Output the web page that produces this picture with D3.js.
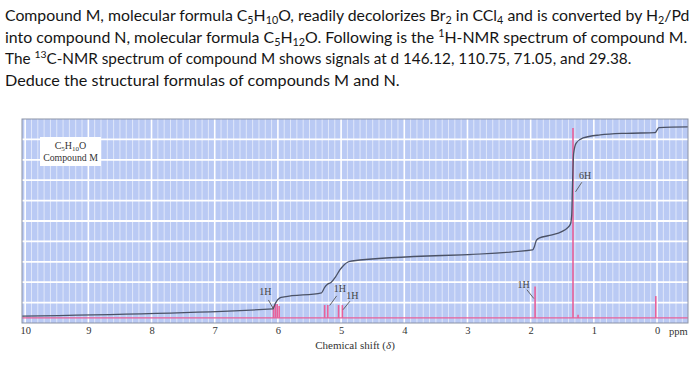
<!DOCTYPE html>
<html><head><meta charset="utf-8">
<script src="https://cdn.jsdelivr.net/npm/d3@7"></script>
<style>body{margin:0;background:#fff;} svg{display:block;}</style>
</head><body>
<svg id="c" width="700" height="367"></svg>
<script>
// ---- data ----
const tickLabels = [10,9,8,7,6,5,4,3,2,1,0];
// NMR peaks: [ppm, intensity]
const peaks = [[6.07,8.3],[6.04,9.3],[6.01,9.3],[5.98,8.3],
               [5.26,8.8],[5.21,8.8],[5.04,8.8],[4.98,8.8],
               [1.93,17.9],[1.33,95.6],[1.25,4.0],[0.02,13.2]];
const baselineLevel = 2.5;
// integration curve: [ppm, level]
const integral = [[10.05,3.4],[6.08,6.9],[6.04,9.7],[5.97,12.3],[5.9,12.8],
  [5.31,14.8],[5.26,17.5],[5.22,18.9],[5.16,19.9],[5.09,22.5],[5.02,26.0],
  [4.95,28.6],[4.89,29.9],[4.83,30.4],[1.97,35.8],[1.94,37.5],[1.91,40.5],[1.86,41.7],
  [1.7,42.9],[1.5,44.9],[1.42,46.6],[1.37,48.5],[1.35,53],[1.34,65],[1.32,83],[1.28,88.2],
  [1.17,90.7],[0.9,92.2],[0.48,93.0],[0.03,93.3],[0.0,94.6],[-0.03,95.8],[-0.49,96.1]];
// annotation labels: text, label position [ppm, level], leader from/to [ppm, level]
const labelTexts = ["1H","1H","1H","1H","6H"];
const labelPos = [[6.20,13.7],[5.02,15.2],[4.82,12.0],[2.11,17.2],[1.14,70.8]];
const leaderFrom = [[6.15,11.3],[5.07,13.3],[4.86,10.7],[2.06,16.3],[1.19,69.0]];
const leaderTo = [[6.07,6.8],[5.18,8.6],[4.97,6.5],[1.95,12.0],[1.29,64.3]];
const titleLines = [
  [["Compound M, molecular formula C"],["5","sub"],["H"],["10","sub"],["O, readily decolorizes Br"],["2","sub"],[" in CCl"],["4","sub"],[" and is converted by H"],["2","sub"],["/Pd"]],
  [["into compound N, molecular formula C"],["5","sub"],["H"],["12","sub"],["O. Following is the "],["1","sup"],["H-NMR spectrum of compound M."]],
  [["The "],["13","sup"],["C-NMR spectrum of compound M shows signals at d 146.12, 110.75, 71.05, and 29.38."]],
  [["Deduce the structural formulas of compounds M and N."]]
];
const titleWidths = [685, 683, 627, 395];

// ---- layout ----
const svg = d3.select("#c");
const L = 22, R = 688, T = 119, B = 323;
const x = d3.scaleLinear().domain([10.05,-0.49]).range([L,R]);
const y = d3.scaleLinear().domain([0,100]).range([B,T]);

// title
titleLines.forEach((parts,i)=>{
  const t = svg.append("text").attr("x",5).attr("y",21+i*21.6)
    .attr("font-family","Lato, 'Open Sans', sans-serif").attr("font-size",16.5).attr("fill","#151515");
  let shift = 0;
  parts.forEach(p=>{
    const s = t.append("tspan").text(p[0]);
    const target = p[1]==="sub"?3:(p[1]==="sup"?-6:0);
    if(p[1]) s.attr("font-size","0.68em");
    s.attr("dy", target-shift);
    shift = target;
  });
  const w = t.node().getComputedTextLength();
  t.attr("font-size", 16.5*titleWidths[i]/w);
});

// plot background
svg.append("rect").attr("x",L).attr("y",T).attr("width",R-L).attr("height",B-T).attr("fill","#bacaf4");
const g = svg.append("g");
const minor = d3.range(-4,101).map(v=>v/10).filter(v=>Math.abs(v-Math.round(v))>1e-6);
g.selectAll(".mv").data(minor).join("line")
  .attr("x1",d=>x(d)).attr("x2",d=>x(d)).attr("y1",T).attr("y2",B)
  .attr("stroke","#ffffff").attr("stroke-opacity",0.55).attr("stroke-width",1);
g.selectAll(".Mv").data(tickLabels).join("line")
  .attr("x1",d=>x(d)).attr("x2",d=>x(d)).attr("y1",T).attr("y2",B)
  .attr("stroke","#ffffff").attr("stroke-width",1.6);
g.selectAll(".hg").data(d3.range(10,100,10)).join("line")
  .attr("x1",L).attr("x2",R).attr("y1",d=>y(d)).attr("y2",d=>y(d))
  .attr("stroke","#ffffff").attr("stroke-width",1.8);

// baseline and peaks
const pink = "#e8609a";
svg.append("line").attr("x1",L).attr("x2",R).attr("y1",y(baselineLevel)).attr("y2",y(baselineLevel))
  .attr("stroke",pink).attr("stroke-width",1.3);
svg.selectAll(".pk").data(peaks).join("line")
  .attr("x1",d=>x(d[0])).attr("x2",d=>x(d[0])).attr("y1",y(baselineLevel)).attr("y2",d=>y(d[1]))
  .attr("stroke",pink).attr("stroke-width",1.6);

// integration curve
const line = d3.line().x(d=>x(d[0])).y(d=>y(d[1])).curve(d3.curveMonotoneX);
svg.append("path").datum(integral).attr("d",line).attr("fill","none")
  .attr("stroke","#4b5266").attr("stroke-width",1.3);

// frame
svg.append("rect").attr("x",L).attr("y",T).attr("width",R-L).attr("height",B-T)
  .attr("fill","none").attr("stroke","#8c93a6").attr("stroke-width",1);

// label box
svg.append("rect").attr("x",40).attr("y",137).attr("width",61).attr("height",29).attr("fill","#ffffff");
const bt = svg.append("text").attr("x",70.5).attr("y",148.5).attr("text-anchor","middle")
  .attr("font-family","'Liberation Serif', serif").attr("font-size",10).attr("fill","#333");
bt.append("tspan").text("C");
bt.append("tspan").text("5").attr("font-size",7).attr("dy",2);
bt.append("tspan").text("H").attr("dy",-2);
bt.append("tspan").text("10").attr("font-size",7).attr("dy",2);
bt.append("tspan").text("O").attr("dy",-2);
svg.append("text").attr("x",70.5).attr("y",161).attr("text-anchor","middle")
  .attr("font-family","'Liberation Serif', serif").attr("font-size",9.8).attr("fill","#333").text("Compound M");

// annotations
labelTexts.forEach((t,i)=>{
  svg.append("text").attr("x",x(labelPos[i][0])).attr("y",y(labelPos[i][1]))
    .attr("text-anchor","middle").attr("font-family","'Liberation Serif', serif")
    .attr("font-size",10).attr("fill","#444").text(t);
  svg.append("line").attr("x1",x(leaderFrom[i][0])).attr("y1",y(leaderFrom[i][1]))
    .attr("x2",x(leaderTo[i][0])).attr("y2",y(leaderTo[i][1]))
    .attr("stroke","#555").attr("stroke-width",0.9);
});

// axis
const ax = svg.append("g").attr("transform",`translate(0,${B})`)
  .call(d3.axisBottom(x).tickValues(tickLabels).tickSize(0).tickPadding(4).tickFormat(d3.format("d")));
ax.select(".domain").remove();
ax.selectAll("text").attr("font-family","'Liberation Serif', serif").attr("font-size",10.5).attr("fill","#333");
svg.append("text").attr("x",669).attr("y",335).attr("font-family","'Liberation Serif', serif")
  .attr("font-size",10.5).attr("fill","#333").text("ppm");
const xl = svg.append("text").attr("x",355).attr("y",349).attr("text-anchor","middle")
  .attr("font-family","'Liberation Serif', serif").attr("font-size",11).attr("fill","#333");
xl.append("tspan").text("Chemical shift (");
xl.append("tspan").text("δ").attr("font-style","italic");
xl.append("tspan").text(")");
</script>
</body></html>
